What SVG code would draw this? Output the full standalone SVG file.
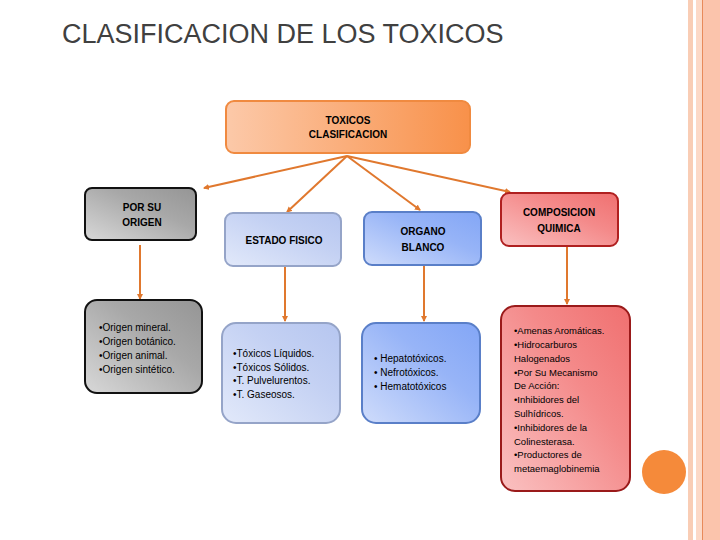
<svg xmlns="http://www.w3.org/2000/svg" width="720" height="540" viewBox="0 0 720 540">
<defs>
<linearGradient id="gO" x1="0" y1="0" x2="1" y2="0"><stop offset="0" stop-color="#fcc9a9"/><stop offset="1" stop-color="#f8914a"/></linearGradient>
<linearGradient id="gG" x1="0" y1="1" x2="1" y2="0"><stop offset="0" stop-color="#d8d8d8"/><stop offset="0.6" stop-color="#a8a8a8"/><stop offset="1" stop-color="#959595"/></linearGradient>
<linearGradient id="gL" x1="0" y1="1" x2="1" y2="0"><stop offset="0" stop-color="#e2e9fa"/><stop offset="0.6" stop-color="#c4d1f3"/><stop offset="1" stop-color="#b6c6f0"/></linearGradient>
<linearGradient id="gB" x1="0" y1="1" x2="1" y2="0"><stop offset="0" stop-color="#cfdcfb"/><stop offset="0.6" stop-color="#97b4f7"/><stop offset="1" stop-color="#83a6f6"/></linearGradient>
<linearGradient id="gR" x1="0" y1="1" x2="1" y2="0"><stop offset="0" stop-color="#fac1c1"/><stop offset="0.6" stop-color="#f48a8a"/><stop offset="1" stop-color="#f07070"/></linearGradient>
<marker id="ar" markerWidth="6" markerHeight="6" refX="5" refY="3" orient="auto" markerUnits="userSpaceOnUse"><path d="M0,0 L6,3 L0,6 z" fill="#e0782e"/></marker>
</defs>
<style>
.t{font-family:"Liberation Sans",Arial,sans-serif;font-size:10px;fill:#000}
.h{font-weight:bold;text-anchor:middle}
.c{stroke:#e0782e;stroke-width:2;fill:none;marker-end:url(#ar)}
</style>
<rect width="720" height="540" fill="#fff"/>
<rect x="688" y="0" width="5" height="540" fill="#f9cdb5"/>
<rect x="696" y="0" width="6" height="540" fill="#fcd9c7"/>
<rect x="702" y="0" width="18" height="540" fill="#fbc4ac"/>
<line x1="702.5" y1="0" x2="702.5" y2="540" stroke="#e88a5a" stroke-width="1"/>
<text x="62" y="43" style="font-family:'Liberation Sans',Arial,sans-serif;font-size:27px;fill:#404040">CLASIFICACION DE LOS TOXICOS</text>
<g id="connectors">
<path class="c" d="M347,156 L204,188"/>
<path class="c" d="M347,156 L287,212"/>
<path class="c" d="M347,156 L420,210"/>
<path class="c" d="M347,156 L510,192"/>
<path class="c" d="M140,245 L140,299"/>
<path class="c" d="M285,267 L285,321"/>
<path class="c" d="M424,266 L424,321"/>
<path class="c" d="M567,247 L567,304"/>
</g>
<g id="n-top"><rect x="226" y="101" width="244" height="52" rx="8" fill="url(#gO)" stroke="#f08a40" stroke-width="2"/><text class="t h" x="348" y="124">TOXICOS</text><text class="t h" x="348" y="138">CLASIFICACION</text></g>
<g id="n-origen"><rect x="85" y="188" width="111" height="52" rx="7" fill="url(#gG)" stroke="#111" stroke-width="2"/><text class="t h" x="142" y="211">POR SU</text><text class="t h" x="142" y="226">ORIGEN</text></g>
<g id="n-estado"><rect x="225" y="213" width="116" height="53" rx="8" fill="url(#gL)" stroke="#95a4c8" stroke-width="2"/><text class="t h" x="284" y="244">ESTADO FISICO</text></g>
<g id="n-organo"><rect x="364" y="212" width="117" height="53" rx="8" fill="url(#gB)" stroke="#5a7fc8" stroke-width="2"/><text class="t h" x="423" y="235">ORGANO</text><text class="t h" x="423" y="251">BLANCO</text></g>
<g id="n-comp"><rect x="501" y="193" width="117" height="53" rx="8" fill="url(#gR)" stroke="#b02020" stroke-width="2"/><text class="t h" x="559" y="216">COMPOSICION</text><text class="t h" x="559" y="232">QUIMICA</text></g>
<g id="n-origen-l"><rect x="85" y="300" width="117" height="93" rx="12" fill="url(#gG)" stroke="#111" stroke-width="2"/><text class="t" x="99" y="331">•Origen mineral.</text><text class="t" x="99" y="345">•Origen botánico.</text><text class="t" x="99" y="359">•Origen animal.</text><text class="t" x="99" y="373">•Origen sintético.</text></g>
<g id="n-estado-l"><rect x="222" y="323" width="118" height="100" rx="14" fill="url(#gL)" stroke="#95a4c8" stroke-width="2"/><text class="t" x="233" y="357">•Tóxicos Líquidos.</text><text class="t" x="233" y="371">•Tóxicos Sólidos.</text><text class="t" x="233" y="384">•T. Pulvelurentos.</text><text class="t" x="233" y="398">•T. Gaseosos.</text></g>
<g id="n-organo-l"><rect x="362" y="323" width="118" height="100" rx="14" fill="url(#gB)" stroke="#5a7fc8" stroke-width="2"/><text class="t" x="374" y="362">• Hepatotóxicos.</text><text class="t" x="374" y="376">• Nefrotóxicos.</text><text class="t" x="374" y="390">• Hematotóxicos</text></g>
<g id="n-comp-l"><rect x="501" y="306" width="129" height="185" rx="14" fill="url(#gR)" stroke="#9a1a1a" stroke-width="2"/>
<g class="t" style="font-size:9.5px"><text x="514" y="334">•Amenas Aromáticas.</text><text x="514" y="348">•Hidrocarburos</text><text x="514" y="362">Halogenados</text><text x="514" y="376">•Por Su Mecanismo</text><text x="514" y="389">De Acción:</text><text x="514" y="403">•Inhibidores del</text><text x="514" y="417">Sulhídricos.</text><text x="514" y="431">•Inhibidores de la</text><text x="514" y="445">Colinesterasa.</text><text x="514" y="458">•Productores de</text><text x="514" y="472">metaemaglobinemia</text></g></g>
<circle cx="664" cy="472" r="22" fill="#f58a3a"/>
</svg>
